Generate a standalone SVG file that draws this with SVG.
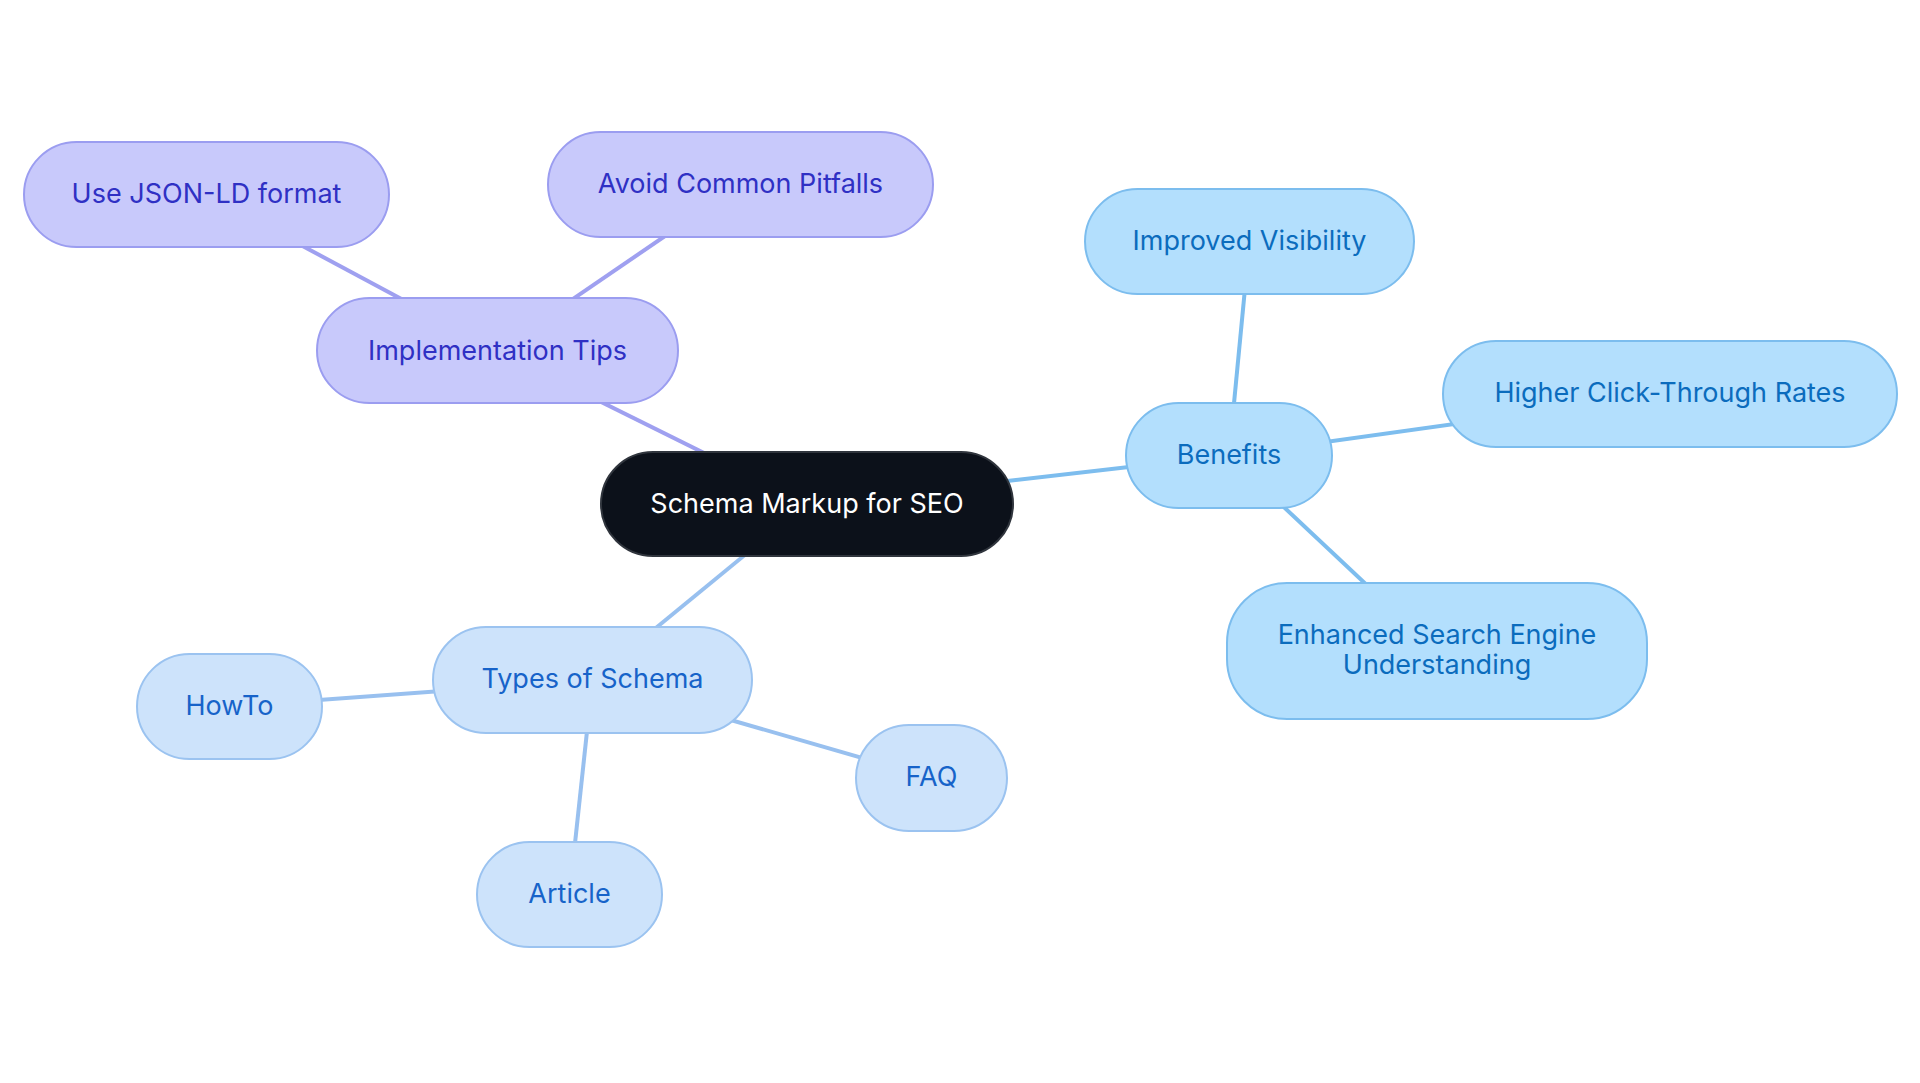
<svg xmlns="http://www.w3.org/2000/svg" width="1920" height="1083" viewBox="0 0 1920 1083">
<style>
text{font-family:Inter,"Noto Sans","Liberation Sans",sans-serif;font-size:27px;text-anchor:middle}
.root rect{fill:#0c111a;stroke:#30353d;stroke-width:2}
.root text{fill:#ffffff}
.p rect{fill:#c8c9fb;stroke:#9b9df0;stroke-width:2}
.p text{fill:#2f30c4}
.b rect{fill:#b3dffd;stroke:#7cbdee;stroke-width:2}
.b text{fill:#0b6cbd}
.t rect{fill:#cde3fb;stroke:#9bc3f0;stroke-width:2}
.t text{fill:#1763c9}
.ep{stroke:#9fa0f0;stroke-width:4;fill:none}
.eb{stroke:#7dbdee;stroke-width:4;fill:none}
.et{stroke:#98c0ef;stroke-width:4;fill:none}
</style>
<rect width="1920" height="1083" fill="#ffffff"/>
<g id="connectors">
<line class="ep" x1="807" y1="504" x2="497.5" y2="350.5"/>
<line class="ep" x1="497.5" y1="350.5" x2="206.5" y2="194.5"/>
<line class="ep" x1="497.5" y1="350.5" x2="740.5" y2="184.5"/>
<line class="eb" x1="807" y1="504" x2="1229" y2="455.5"/>
<line class="eb" x1="1229" y1="455.5" x2="1249.5" y2="241.5"/>
<line class="eb" x1="1229" y1="455.5" x2="1670" y2="394"/>
<line class="eb" x1="1229" y1="455.5" x2="1437" y2="651"/>
<line class="et" x1="807" y1="504" x2="592.5" y2="680"/>
<line class="et" x1="592.5" y1="680" x2="229.5" y2="706.5"/>
<line class="et" x1="592.5" y1="680" x2="931.5" y2="778"/>
<line class="et" x1="592.5" y1="680" x2="569.5" y2="894.5"/>
</g>
<g id="root" class="root"><rect x="601" y="452" width="412" height="104" rx="52"/><text x="807" y="513">Schema Markup for SEO</text></g>
<g id="impl" class="p"><rect x="317" y="298" width="361" height="105" rx="52.5"/><text x="497.5" y="360">Implementation Tips</text></g>
<g id="json" class="p"><rect x="24" y="142" width="365" height="105" rx="52.5"/><text x="206.5" y="203">Use JSON-LD format</text></g>
<g id="avoid" class="p"><rect x="548" y="132" width="385" height="105" rx="52.5"/><text x="740.5" y="193">Avoid Common Pitfalls</text></g>
<g id="benefits" class="b"><rect x="1126" y="403" width="206" height="105" rx="52.5"/><text x="1229" y="464">Benefits</text></g>
<g id="visibility" class="b"><rect x="1085" y="189" width="329" height="105" rx="52.5"/><text x="1249.5" y="250">Improved Visibility</text></g>
<g id="ctr" class="b"><rect x="1443" y="341" width="454" height="106" rx="53"/><text x="1670" y="402">Higher Click-Through Rates</text></g>
<g id="enhanced" class="b"><rect x="1227" y="583" width="420" height="136" rx="60"/><text x="1437" y="644">Enhanced Search Engine</text><text x="1437" y="674">Understanding</text></g>
<g id="types" class="t"><rect x="433" y="627" width="319" height="106" rx="53"/><text x="592.5" y="688">Types of Schema</text></g>
<g id="howto" class="t"><rect x="137" y="654" width="185" height="105" rx="52.5"/><text x="229.5" y="715">HowTo</text></g>
<g id="faq" class="t"><rect x="856" y="725" width="151" height="106" rx="53"/><text x="931.5" y="786">FAQ</text></g>
<g id="article" class="t"><rect x="477" y="842" width="185" height="105" rx="52.5"/><text x="569.5" y="903">Article</text></g>
</svg>
